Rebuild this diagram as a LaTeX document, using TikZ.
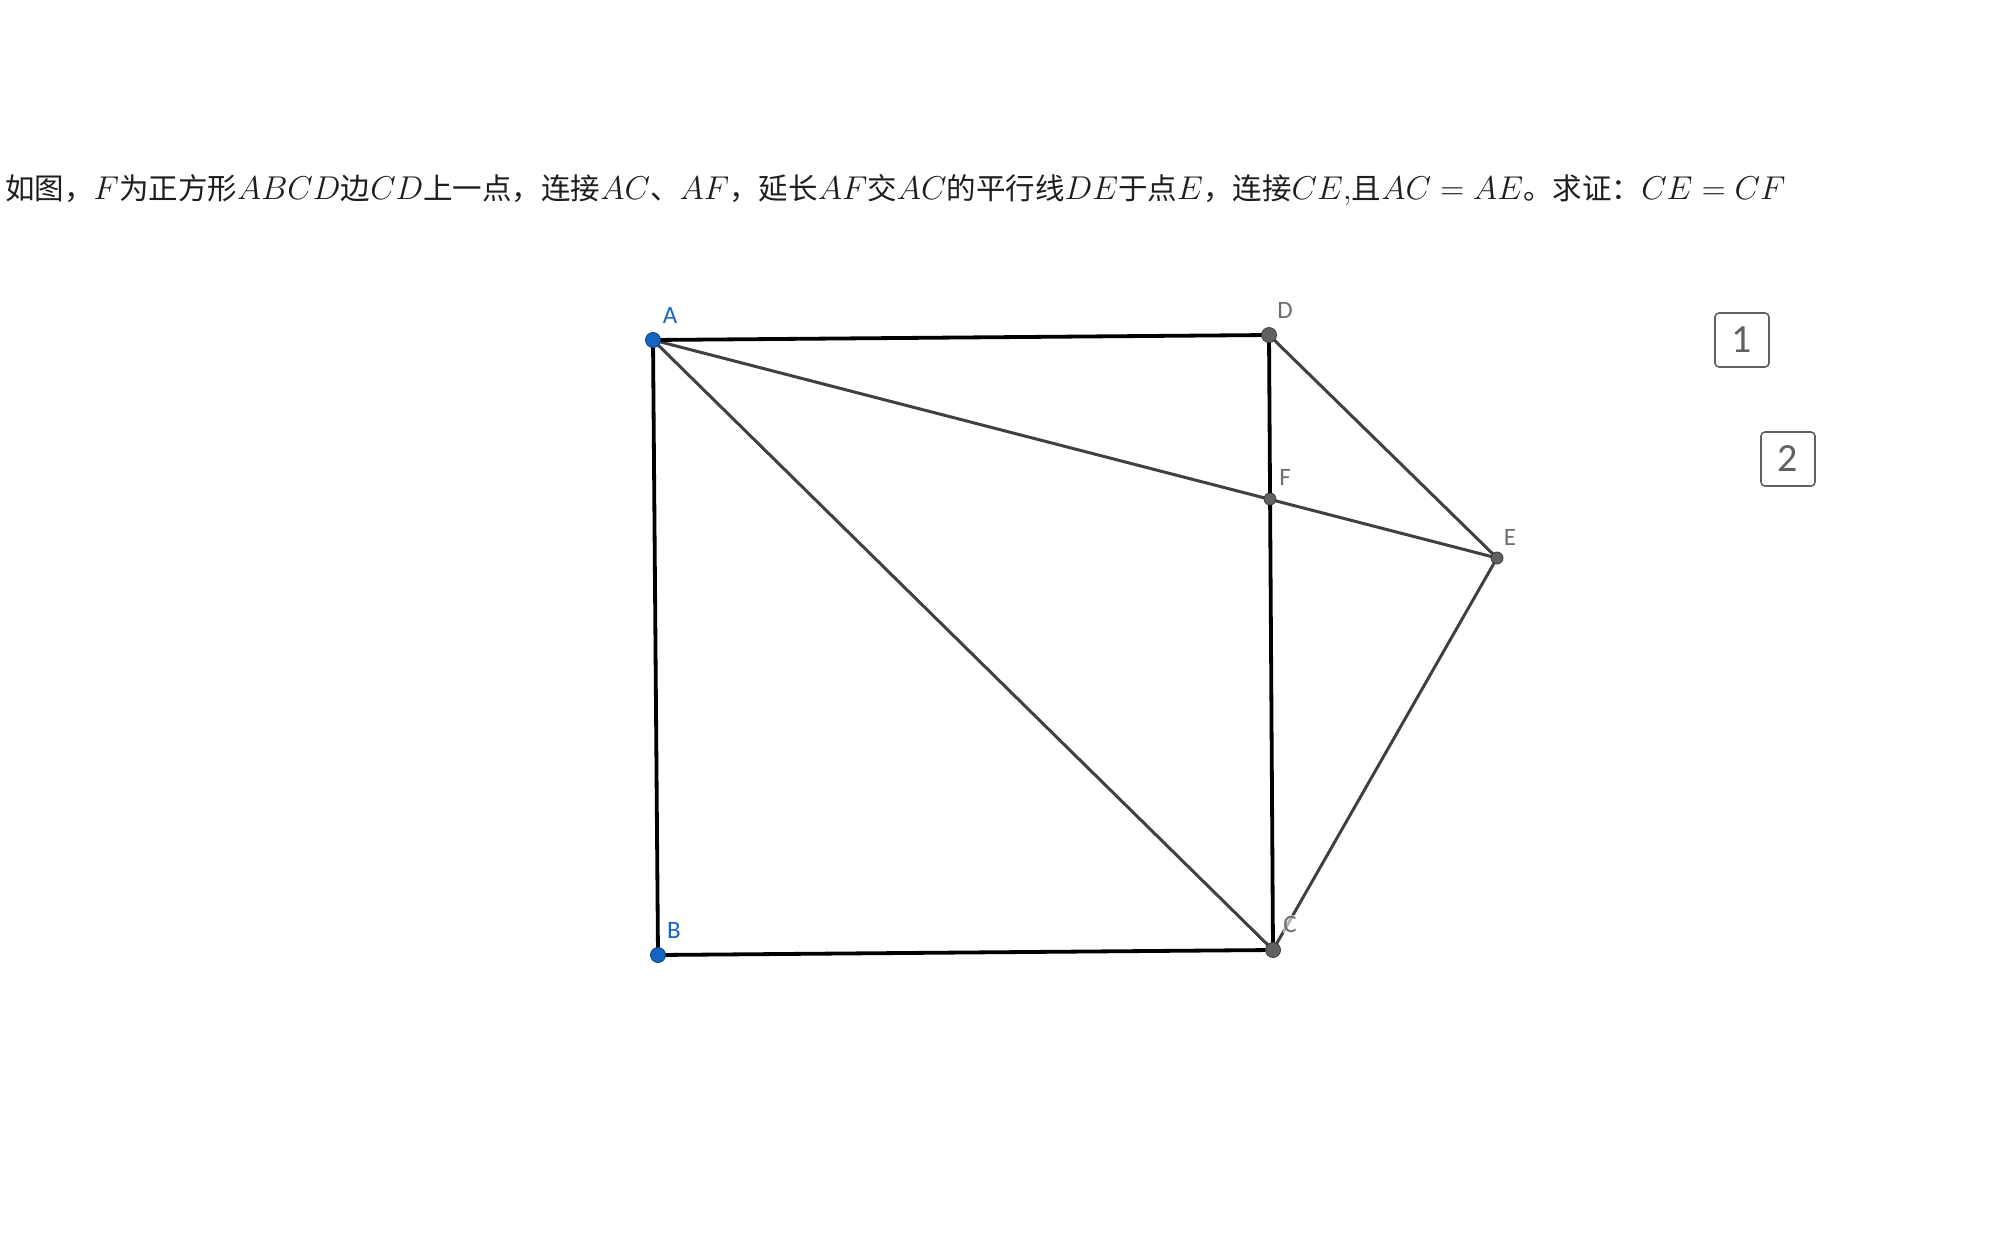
\RequirePackage{fix-cm}
\documentclass[tikz,border=0pt]{standalone}
\usepackage{fontspec}
\newfontfamily\cjk{Noto Sans CJK SC}
\newfontfamily\lblfont{Carlito}
\definecolor{ggblue}{RGB}{21,101,192}
\definecolor{gggray}{RGB}{97,97,97}
\definecolor{seggray}{RGB}{64,64,64}
\definecolor{lblgray}{RGB}{110,110,110}
\definecolor{txtgray}{RGB}{30,30,30}
\newcommand{\mth}[1]{{\fontsize{33}{33}\selectfont$#1$}}
\begin{document}
\begin{tikzpicture}[x=1pt,y=-1pt,
  side/.style={black,line width=3.8pt,line cap=round},
  seg/.style={seggray,line width=3pt,line cap=round},
  bluept/.style={circle,fill=ggblue,draw=ggblue!60!black,line width=0.8pt,inner sep=0pt,minimum size=15pt},
  graypt/.style={circle,fill=gggray,draw=gggray!60!black,line width=0.8pt,inner sep=0pt,minimum size=15pt},
  smallpt/.style={circle,fill=gggray,draw=gggray!60!black,line width=0.8pt,inner sep=0pt,minimum size=12pt},
  bluelbl/.style={text=ggblue,font=\lblfont\fontsize{25}{25}\selectfont,inner sep=0pt},
  graylbl/.style={text=lblgray,font=\lblfont\fontsize{25}{25}\selectfont,inner sep=0pt},
  numbox/.style={draw=gggray,line width=1.6pt,rounded corners=4pt,minimum width=54pt,minimum height=54pt,inner sep=0pt,text=gggray,font=\lblfont\fontsize{40}{40}\selectfont}]
\useasboundingbox (0,0) rectangle (2002,1252);
\fill[white] (0,0) rectangle (2002,1252);
% statement
\node[anchor=base west,inner sep=0pt,text=txtgray,font=\cjk\fontsize{29.5}{29.5}\selectfont] (txt) at (5,200)
 {如图，\mth{F}为正方形\mth{ABCD}边\mth{CD}上一点，连接\mth{AC}、\mth{AF}，延长\mth{AF}交\mth{AC}的平行线\mth{DE}于点\mth{E}，连接\mth{CE,}且\mth{AC=AE}。求证：\mth{CE=CF}};
% points
\coordinate (A) at (653,340);
\coordinate (D) at (1269,335);
\coordinate (F) at (1270,499);
\coordinate (E) at (1497,558);
\coordinate (C) at (1273,950);
\coordinate (B) at (658,955);
% segments
\draw[seg] (A) -- (C);
\draw[seg] (A) -- (E);
\draw[seg] (D) -- (E);
\draw[seg] (C) -- (E);
\draw[side] (A) -- (D) -- (C) -- (B) -- cycle;
% point markers
\node[bluept] (pA) at (A) {};
\node[bluept] (pB) at (B) {};
\node[graypt] (pD) at (D) {};
\node[graypt] (pC) at (C) {};
\node[smallpt] (pF) at (F) {};
\node[smallpt] (pE) at (E) {};
% labels
\node[bluelbl] (lA) at (670,315) {A};
\node[bluelbl] (lB) at (674,930) {B};
\node[graylbl] (lD) at (1285,310) {D};
\node[graylbl] (lF) at (1285,477) {F};
\node[graylbl] (lE) at (1510,537) {E};
\node[graylbl,fill=white,fill opacity=0.6,text opacity=1,inner sep=0.5pt] (lC) at (1290,924) {C};
% boxes
\node[numbox] (b1) at (1742,340) {1};
\node[numbox] (b2) at (1788,459) {2};
\end{tikzpicture}
\end{document}
